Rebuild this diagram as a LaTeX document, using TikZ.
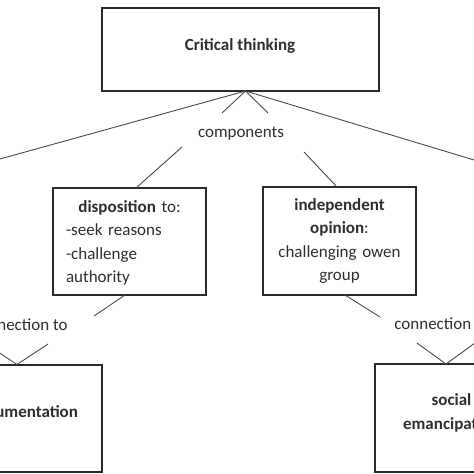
\documentclass[tikz,border=0pt]{standalone}
\usepackage{fontspec}
\setmainfont{Carlito}
\definecolor{ink}{HTML}{2E2E2E}
\definecolor{edge}{HTML}{2A2A2A}
\definecolor{wire}{HTML}{4A4A4A}
\begin{document}
\begin{tikzpicture}[x=1pt,y=-1pt,
  box/.style={draw=edge, line width=1.6pt, inner sep=0pt},
  lbl/.style={text=ink, font=\fontsize{17}{23.3}\selectfont, inner sep=0pt},
  conn/.style={draw=wire, line width=0.9pt}]
\useasboundingbox (0,0) rectangle (474,474);
\clip (0,0) rectangle (474,474);
% boxes
\node[box, minimum width=277, minimum height=83] (ct) at (240.3,49.5) {};
\node[lbl, font=\fontsize{17}{23.3}\selectfont\bfseries] (ctt) at (240,46) {Critical thinking};
\node[box, minimum width=153, minimum height=107] (disp) at (129.5,241.5) {};
\node[lbl, text width=127pt, align=left] (dispt) at (129.5,243) {\makebox[127pt][c]{\textbf{disposition} to:}\\-seek reasons\\-challenge\\authority};
\node[box, minimum width=153, minimum height=108] (ind) at (339.5,241) {};
\node[lbl, text width=140pt, align=center] (indt) at (339.5,241) {\textbf{independent}\\\textbf{opinion}:\\challenging owen\\group};
\node[box, minimum width=153, minimum height=107] (arg) at (25.5,418.5) {};
\node[lbl, font=\fontsize{17}{23.3}\selectfont\bfseries] (argt) at (25.5,413) {argumentation};
\node[box, minimum width=153, minimum height=108] (soc) at (451.5,418) {};
\node[lbl, font=\fontsize{17}{23.3}\selectfont\bfseries, align=center] (soct) at (451.5,413) {social\\emancipation};
% labels
\node[lbl] (comp) at (241,133) {components};
\node[lbl] (conL) at (20,325) {connection to};
\node[lbl] (conR) at (442,324) {connection to};
% connector points
\coordinate (ctA) at (245.5,91);
\coordinate (farL) at (-20,164.5);
\coordinate (farR) at (494,166);
\coordinate (c1) at (222,113);
\coordinate (c2) at (268,113);
\coordinate (c3) at (182,147);
\coordinate (dTop) at (136,188);
\coordinate (c4) at (304,152);
\coordinate (iTop) at (337,187);
\coordinate (dBot) at (125,295);
\coordinate (c5) at (94,316);
\coordinate (c6) at (48,344);
\coordinate (aTop) at (17,364.5);
\coordinate (c7) at (-14,344);
\coordinate (iBot) at (345,295);
\coordinate (c8) at (380,317);
\coordinate (c9) at (417,343);
\coordinate (sTop) at (446,364);
\coordinate (c10) at (475,343);
% connectors
\draw[conn] (farL) -- (ctA) -- (farR);
\draw[conn] (c1) -- (ctA) -- (c2);
\draw[conn] (c3) -- (dTop);
\draw[conn] (c4) -- (iTop);
\draw[conn] (dBot) -- (c5);
\draw[conn] (c6) -- (aTop) -- (c7);
\draw[conn] (iBot) -- (c8);
\draw[conn] (c9) -- (sTop) -- (c10);
\end{tikzpicture}
\end{document}
